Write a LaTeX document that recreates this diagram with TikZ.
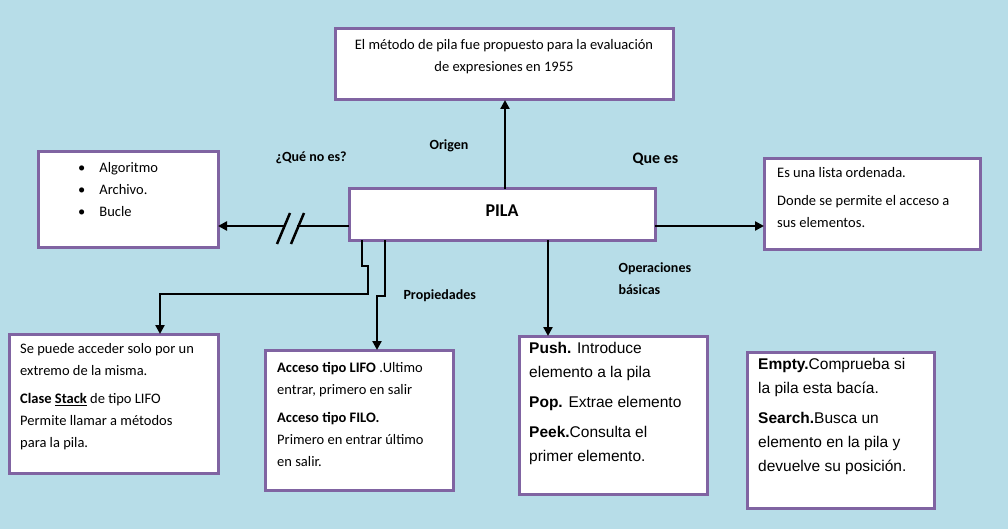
\documentclass[tikz,border=0pt]{standalone}
\usepackage{fontspec}
\setmainfont{Carlito}
\newfontfamily\arialf{Liberation Sans}
\usetikzlibrary{arrows.meta}
\definecolor{bg}{HTML}{B7DDE8}
\definecolor{bd}{HTML}{8064A2}
\begin{document}
\begin{tikzpicture}[x=1pt,y=-1pt,
 box/.style={draw=bd,line width=3pt,fill=white},
 con/.style={line width=2.5pt,-{Triangle[length=9pt,width=9pt]}},
 lnk/.style={line width=2.5pt},
 lab/.style={font=\fontsize{14}{22}\selectfont\bfseries,anchor=west},
 txt/.style={font=\fontsize{14.5}{22}\selectfont,align=left,anchor=north west,inner sep=0pt},
 atxt/.style={font=\arialf\fontsize{15.5}{24}\selectfont,align=left,anchor=north west,inner sep=0pt}]
\fill[bg] (0,0) rectangle (1008,529);
\useasboundingbox (0,0) rectangle (1008,529);
\draw[box] (335,29) rectangle (673,100); \coordinate (topb) at (505,100);
\node[font=\fontsize{14.5}{22}\selectfont,align=center] (orig) at (504,57) {El método de pila fue propuesto para la evaluación\\de expresiones en 1955};
\draw[box] (349,189) rectangle (655,240);
\node[font=\fontsize{18}{20}\selectfont\bfseries] (pila) at (502,211) {PILA};
\coordinate (pt) at (505,189); \coordinate (pr) at (655,226); \coordinate (pl) at (349,226);
\draw[box] (38,152) rectangle (218,247); \coordinate (lb) at (218,226);
\node[txt,anchor=west] (no) at (78,190) {\textbullet\hspace{14pt}Algoritmo\\\textbullet\hspace{14pt}Archivo.\\\textbullet\hspace{14pt}Bucle};
\draw[box] (764,159) rectangle (980,249); \coordinate (rb) at (764,226);
\node[txt] (es) at (777,167) {Es una lista ordenada.\\[6pt]Donde se permite el acceso a\\sus elementos.};
\draw[box] (9,334) rectangle (218,473);
\node[txt] (b1) at (20,343) {Se puede acceder solo por un\\extremo de la misma.\\[6pt]\textbf{Clase \underline{Stack}} de tipo LIFO\\Permite llamar a métodos\\para la pila.};
\draw[box] (265,350) rectangle (453,490);
\node[txt] (b2) at (277,362) {\textbf{Acceso tipo LIFO} .Ultimo\\entrar, primero en salir\\[6pt]\textbf{Acceso tipo FILO.}\\Primero en entrar último\\en salir.};
\draw[box] (519,336) rectangle (707,494);
\node[atxt] (b3) at (529,342) {\textbf{Push.} Introduce\\elemento a la pila\\[6pt]\textbf{Pop.} Extrae elemento\\[6pt]\textbf{Peek.}Consulta el\\primer elemento.};
\draw[box] (747,352) rectangle (934,508);
\node[atxt] (b4) at (758,358) {\textbf{Empty.}Comprueba si\\la pila esta bacía.\\[6pt]\textbf{Search.}Busca un\\elemento en la pila y\\devuelve su posición.};
% connectors
\draw[con] (pt) -- (topb);
\draw[con] (pr) -- (rb);
\draw[con] (548,240) -- (548,336);
\draw[lnk] (pl) -- (297,226);
\draw[con] (285,226) -- (lb);
\draw[lnk] (277,244) -- (290,213) (291,244) -- (304,213);
\draw[con] (362,240) -- (362,266) -- (368,266) -- (368,294) -- (160,294) -- (160,334);
\draw[con] (385,240) -- (385,296) -- (377,296) -- (377,350);
% labels
\node[lab] (l1) at (272,158) {¿Qué no es?};
\node[lab] (l2) at (426,146) {Origen};
\node[lab,font=\fontsize{16}{18}\selectfont\bfseries] (l3) at (629,159) {Que es};
\node[lab,align=left] (l4) at (615,279) {Operaciones\\básicas};
\node[lab] (l5) at (400,296) {Propiedades};
\end{tikzpicture}
\end{document}
